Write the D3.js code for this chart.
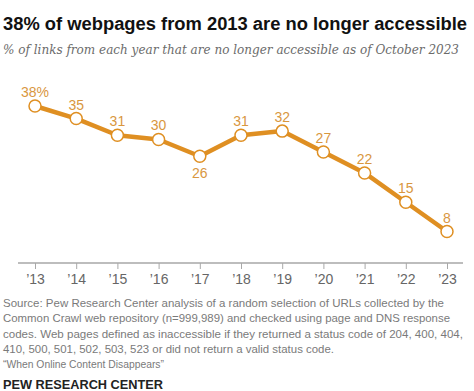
<!DOCTYPE html>
<html>
<head>
<meta charset="utf-8">
<script src="https://cdn.jsdelivr.net/npm/d3@7"></script>
<style>
  body { margin: 0; background: #fff; }
  svg { display: block; }
</style>
</head>
<body>
<svg id="canvas" width="474" height="391"></svg>
<script>
// chart data
const years = ['2013', '2014', '2015', '2016', '2017', '2018', '2019', '2020', '2021', '2022', '2023'];
const tickLabels = ['’13', '’14', '’15', '’16', '’17', '’18', '’19', '’20', '’21', '’22', '’23'];
const shares = [38, 35, 31, 30, 26, 31, 32, 27, 22, 15, 8];
const sourceLines = [
    'Source: Pew Research Center analysis of a random selection of URLs collected by the',
    'Common Crawl web repository (n=999,989) and checked using page and DNS response',
    'codes. Web pages defined as inaccessible if they returned a status code of 204, 400, 404,',
    '410, 500, 501, 502, 503, 523 or did not return a valid status code.',
    '“When Online Content Disappears”'
];

const svg = d3.select('#canvas');
const sans = 'Liberation Sans, Arial, sans-serif';
const lineColor = '#df8f22';
const labelColor = '#d9973f';

// title + subtitle
svg.append('text')
    .attr('x', 3).attr('y', 30)
    .attr('font-family', sans)
    .attr('font-weight', 'bold')
    .attr('font-size', 18)
    .attr('fill', '#111')
    .attr('textLength', 464)
    .attr('lengthAdjust', 'spacingAndGlyphs')
    .text('38% of webpages from 2013 are no longer accessible');

svg.append('text')
    .attr('x', 3).attr('y', 54)
    .attr('font-family', 'DejaVu Serif, Georgia, serif')
    .attr('font-style', 'italic')
    .attr('font-size', 12)
    .attr('fill', '#6b6b6b')
    .attr('textLength', 456)
    .attr('lengthAdjust', 'spacingAndGlyphs')
    .text('% of links from each year that are no longer accessible as of October 2023');

// scales
const x = d3.scalePoint()
    .domain(years)
    .range([35, 447]);

const y = d3.scaleLinear()
    .domain([0, 38])
    .range([265, 106]);

const axisY = 263;

// x axis
const xAxis = d3.axisBottom(x)
    .tickSize(6)
    .tickPadding(5)
    .tickFormat((d, i) => tickLabels[i]);

const axisG = svg.append('g')
    .attr('transform', `translate(0,${axisY})`)
    .call(xAxis);

axisG.select('.domain').remove();
axisG.insert('line', ':first-child')
    .attr('x1', 18).attr('x2', 463)
    .attr('stroke', '#bdbdbd')
    .attr('stroke-width', 2);
axisG.selectAll('.tick line').attr('stroke', '#a8a8a8');
axisG.selectAll('.tick text')
    .attr('font-family', sans)
    .attr('font-size', 14)
    .attr('fill', '#666');

// line
const line = d3.line()
    .x((d, i) => x(years[i]))
    .y(d => y(d));

svg.append('path')
    .datum(shares)
    .attr('d', line)
    .attr('fill', 'none')
    .attr('stroke', lineColor)
    .attr('stroke-width', 4.5)
    .attr('stroke-linejoin', 'round');

svg.selectAll('.dot')
    .data(shares)
    .join('circle')
    .attr('class', 'dot')
    .attr('cx', (d, i) => x(years[i]))
    .attr('cy', d => y(d))
    .attr('r', 6)
    .attr('fill', '#fff')
    .attr('stroke', lineColor)
    .attr('stroke-width', 1.5);

// value labels, the 2017 dip is labelled below the point
svg.selectAll('.val')
    .data(shares)
    .join('text')
    .attr('class', 'val')
    .attr('x', (d, i) => x(years[i]))
    .attr('y', (d, i) => years[i] === '2017' ? y(d) + 22 : y(d) - 9)
    .attr('text-anchor', 'middle')
    .attr('font-family', sans)
    .attr('font-size', 14)
    .attr('fill', labelColor)
    .text((d, i) => i === 0 ? d + '%' : d);

// source note
svg.selectAll('.src')
    .data(sourceLines)
    .join('text')
    .attr('class', 'src')
    .attr('x', 3)
    .attr('y', (d, i) => 307 + i * 15.3)
    .attr('font-family', sans)
    .attr('font-size', 11.8)
    .attr('fill', '#7a7a7a')
    .attr('textLength', (d, i) => [441, 447, 460, 331, 161][i])
    .attr('lengthAdjust', 'spacingAndGlyphs')
    .text(d => d);

svg.append('text')
    .attr('x', 3).attr('y', 389)
    .attr('font-family', sans)
    .attr('font-weight', 'bold')
    .attr('font-size', 13)
    .attr('fill', '#222')
    .attr('textLength', 160)
    .attr('lengthAdjust', 'spacingAndGlyphs')
    .text('PEW RESEARCH CENTER');
</script>
</body>
</html>
